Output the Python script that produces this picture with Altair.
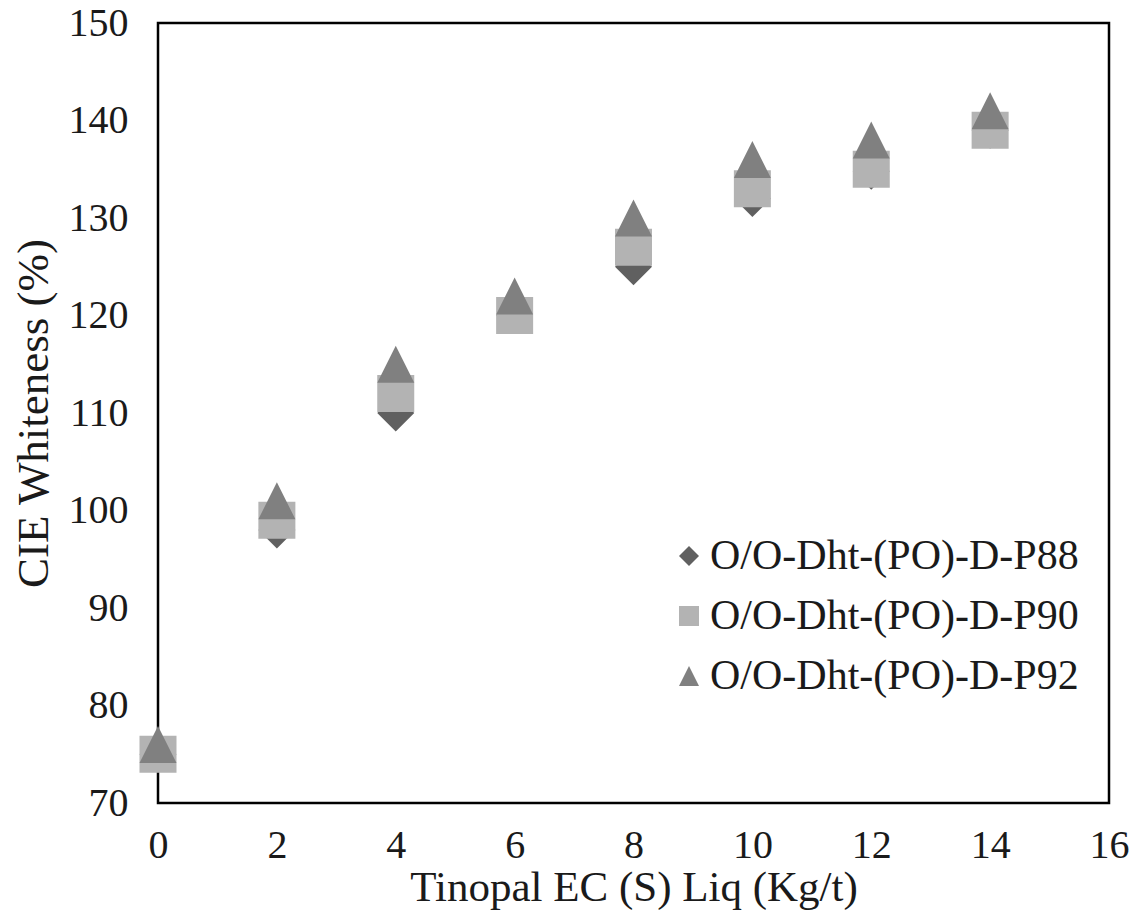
import altair as alt
import pandas as pd

# Tinopal EC (S) Liq dosage, kg/t
dosage = [0, 2, 4, 6, 8, 10, 12, 14]

# CIE whiteness (%) for each bleaching sequence
p88 = [75.0, 98.0, 110.0, 120.0, 125.0, 132.0, 134.8, 139.0]
p90 = [75.0, 99.0, 112.0, 120.0, 127.0, 133.0, 135.0, 139.0]
p92 = [76.0, 101.0, 115.0, 122.0, 130.0, 136.0, 138.0, 141.0]

series_names = ["O/O-Dht-(PO)-D-P88", "O/O-Dht-(PO)-D-P90", "O/O-Dht-(PO)-D-P92"]
series_values = [p88, p90, p92]
series_colors = ["#606060", "#b3b3b3", "#808080"]
# diamond, square, triangle drawn in a unit box so each marker is centred on its value
series_shapes = [
    "M0,-1L1,0L0,1L-1,0Z",
    "M-1,-1L1,-1L1,1L-1,1Z",
    "M0,-1L1,1L-1,1Z",
]

rows = []
for order, (name, vals) in enumerate(zip(series_names, series_values)):
    for x, y in zip(dosage, vals):
        rows.append({"dosage": x, "whiteness": y, "series": name, "order": order})
df = pd.DataFrame(rows)

FONT = "Liberation Serif"

chart = (
    alt.Chart(df)
    .mark_point(filled=True, opacity=1, size=1370, strokeWidth=0)
    .encode(
        x=alt.X(
            "dosage:Q",
            scale=alt.Scale(domain=[0, 16], nice=False, zero=False),
            axis=alt.Axis(
                title="Tinopal EC (S) Liq (Kg/t)",
                values=list(range(0, 17, 2)),
                ticks=False,
                grid=False,
                domain=False,
                labelFlush=False,
                labelFontSize=40,
                labelPadding=22,
                titleFontSize=43,
                titleFontWeight="normal",
                titlePadding=1,
            ),
        ),
        y=alt.Y(
            "whiteness:Q",
            scale=alt.Scale(domain=[70, 150], nice=False, zero=False),
            axis=alt.Axis(
                title="CIE Whiteness (%)",
                values=list(range(70, 151, 10)),
                ticks=False,
                grid=False,
                domain=False,
                labelFlush=False,
                labelFontSize=40,
                labelPadding=30,
                titleFontSize=45,
                titleFontWeight="normal",
                titlePadding=12,
            ),
        ),
        color=alt.Color(
            "series:N",
            scale=alt.Scale(domain=series_names, range=series_colors),
            legend=alt.Legend(
                title=None,
                orient="none",
                legendX=510,
                legendY=512,
                labelFontSize=42,
                symbolSize=400,
                symbolStrokeWidth=0,
                rowPadding=18,
                labelOffset=0,
                padding=0,
                labelLimit=600,
            ),
        ),
        shape=alt.Shape(
            "series:N",
            scale=alt.Scale(domain=series_names, range=series_shapes),
        ),
        order=alt.Order("order:Q"),
    )
    .properties(
        width=951,
        height=780,
        autosize=alt.AutoSizeParams(type="none"),
        padding={"left": 158, "top": 23, "right": 36, "bottom": 113},
        background="white",
    )
    .configure_view(stroke="black", strokeWidth=2.5)
    .configure_axis(labelFont=FONT, titleFont=FONT, labelColor="#1a1a1a", titleColor="#1a1a1a")
    .configure_legend(labelFont=FONT, labelColor="#1a1a1a")
)

chart.save("out.html", embed_options={"renderer": "svg", "actions": False})
